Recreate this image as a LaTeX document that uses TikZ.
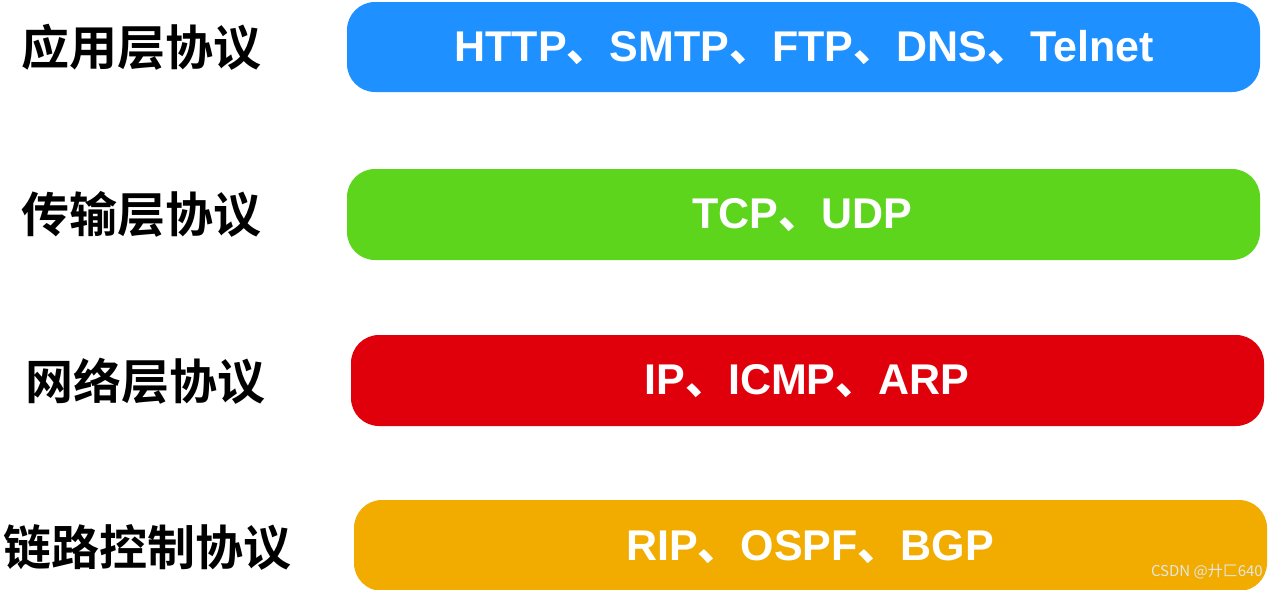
\documentclass[tikz,border=0pt]{standalone}
\usepackage{fontspec}
\setmainfont{Liberation Sans}
\newfontfamily\cjk{Noto Sans CJK SC}
\newfontfamily\cjkb{Noto Sans CJK SC Bold}
\newcommand{\dn}{{\cjk 、}}
\definecolor{cblue}{HTML}{1E90FF}
\definecolor{cgreen}{HTML}{5DD51C}
\definecolor{cred}{HTML}{E0000B}
\definecolor{corange}{HTML}{F2AC00}
\begin{document}
\begin{tikzpicture}[x=1pt,y=-1pt,
  layerbox/.style={rounded corners=28pt},
  boxtext/.style={text=white,font=\fontsize{43}{47}\selectfont\bfseries,anchor=center,inner sep=0pt},
  lbl/.style={text=black,font=\cjkb\fontsize{48}{50}\selectfont,anchor=center,inner sep=0pt}]
\useasboundingbox (0,0) rectangle (1279,589);
\fill[white] (0,0) rectangle (1279,589);
\fill[cblue,layerbox] (347,2) rectangle (1260,92);
\fill[cgreen,layerbox] (347,169) rectangle (1260,260);
\fill[cred,layerbox] (351,335) rectangle (1264,426);
\fill[corange,layerbox] (354,500) rectangle (1267,591);
\node[boxtext] (t1) at (804,48) {HTTP\dn SMTP\dn FTP\dn DNS\dn Telnet};
\node[boxtext] (t2) at (802,215) {TCP\dn UDP};
\node[boxtext] (t3) at (807,381) {IP\dn ICMP\dn ARP};
\node[boxtext] (t4) at (810,547) {RIP\dn OSPF\dn BGP};
\node[lbl] (l1) at (141,47) {应用层协议};
\node[lbl] (l2) at (141,214) {传输层协议};
\node[lbl] (l3) at (145,381) {网络层协议};
\node[lbl] (l4) at (147,547) {链路控制协议};
\node[text=white!80!gray,font=\cjk\fontsize{15}{16}\selectfont,anchor=east,inner sep=0pt] (wm) at (1263,572) {CSDN @廾匚640};
\end{tikzpicture}
\end{document}
